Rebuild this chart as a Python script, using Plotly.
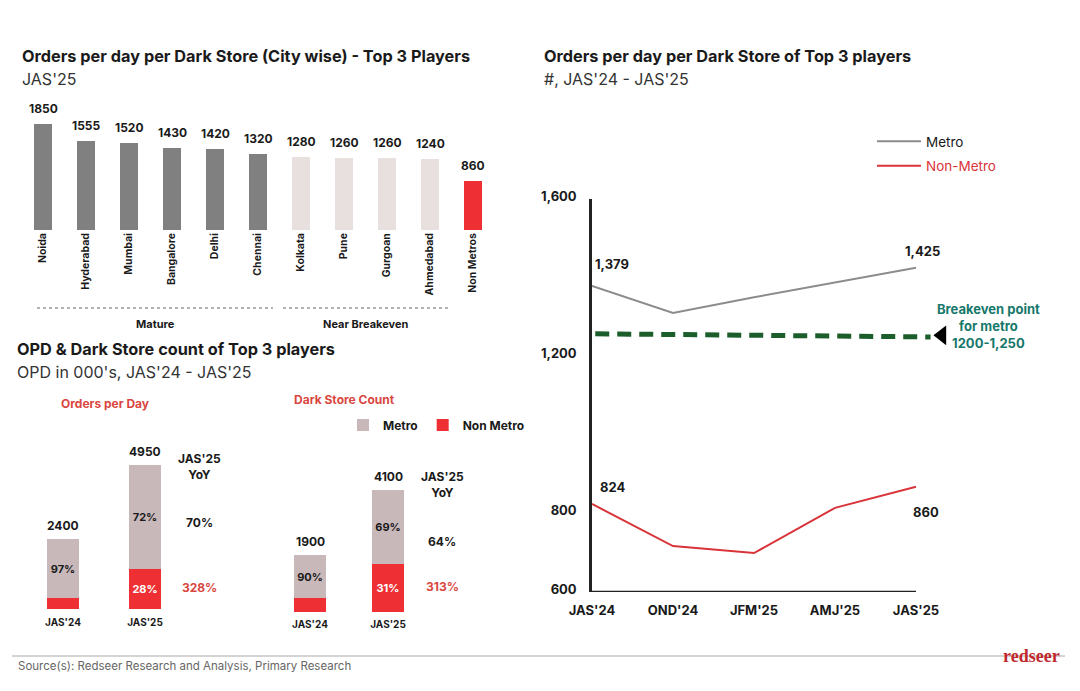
import plotly.graph_objects as go

W, H = 1080, 691
def X(px): return px / W
def Y(py): return 1 - py / H

FONT = "Inter"
DARK = "#1a1a1a"
RED = "#ee3035"
LRED = "#d9473f"
GRAY_BAR = "#808080"
LIGHT_BAR = "#e8dfdf"
METRO_BAR = "#c9b8ba"
TEAL = "#17786b"
GREEN = "#1b5e2b"

# ---- Chart 1: city wise OPD per dark store ----
cities = ["Noida", "Hyderabad", "Mumbai", "Bangalore", "Delhi", "Chennai",
          "Kolkata", "Pune", "Gurgoan", "Ahmedabad", "Non Metros"]
city_opd = [1850, 1555, 1520, 1430, 1420, 1320, 1280, 1260, 1260, 1240, 860]
city_group = ["Mature"] * 6 + ["Near Breakeven"] * 4 + ["Non Metro"]
group_colors = {"Mature": GRAY_BAR, "Near Breakeven": LIGHT_BAR, "Non Metro": RED}

# ---- Chart 2: OPD & dark store count ----
periods = ["JAS'24", "JAS'25"]
opd_total = [2400, 4950]
opd_nonmetro = [380, 1375]
opd_metro = [t - n for t, n in zip(opd_total, opd_nonmetro)]
opd_metro_pct = ["97%", "72%"]
opd_nonmetro_pct = ["", "28%"]
opd_yoy = ["70%", "328%"]

ds_total = [1900, 4100]
ds_nonmetro = [470, 1610]
ds_metro = [t - n for t, n in zip(ds_total, ds_nonmetro)]
ds_metro_pct = ["90%", "69%"]
ds_nonmetro_pct = ["", "31%"]
ds_yoy = ["64%", "313%"]

# ---- Chart 3: trend lines ----
quarters = ["JAS'24", "OND'24", "JFM'25", "AMJ'25", "JAS'25"]
metro_line = [1379, 1310, 1350, 1388, 1425]
nonmetro_line = [824, 717, 699, 814, 868]
metro_labels = ["1,379", "", "", "", "1,425"]
nonmetro_labels = ["824", "", "", "", "860"]
breakeven_x = [0.04, 4.18]
breakeven_y = [1257, 1249]
line_yticks = [600, 800, 1200, 1600]

fig = go.Figure()

# city bars
fig.add_trace(go.Bar(
    x=cities, y=city_opd, width=0.4,
    marker=dict(color=[group_colors[g] for g in city_group], line=dict(width=0)),
    showlegend=False, xaxis="x", yaxis="y", hoverinfo="x+y"))

# OPD stacked bars
fig.add_trace(go.Bar(
    x=periods, y=opd_nonmetro, width=0.4, name="Non Metro",
    marker=dict(color=RED, line=dict(width=0)),
    text=opd_nonmetro_pct, textposition="inside", insidetextanchor="middle",
    textfont=dict(color="white", size=11, family=FONT, weight="bold"),
    legend="legend2", legendrank=2, showlegend=True, xaxis="x2", yaxis="y2"))
fig.add_trace(go.Bar(
    x=periods, y=opd_metro, width=0.4, name="Metro",
    marker=dict(color=METRO_BAR, line=dict(width=0)),
    text=opd_metro_pct, textposition="inside", insidetextanchor="middle",
    textfont=dict(color=DARK, size=11, family=FONT, weight="bold"),
    legend="legend2", legendrank=1, showlegend=True, xaxis="x2", yaxis="y2"))

# Dark store stacked bars
fig.add_trace(go.Bar(
    x=periods, y=ds_nonmetro, width=0.42, name="Non Metro",
    marker=dict(color=RED, line=dict(width=0)),
    text=ds_nonmetro_pct, textposition="inside", insidetextanchor="middle",
    textfont=dict(color="white", size=11, family=FONT, weight="bold"),
    showlegend=False, xaxis="x3", yaxis="y3"))
fig.add_trace(go.Bar(
    x=periods, y=ds_metro, width=0.42, name="Metro",
    marker=dict(color=METRO_BAR, line=dict(width=0)),
    text=ds_metro_pct, textposition="inside", insidetextanchor="middle",
    textfont=dict(color=DARK, size=11, family=FONT, weight="bold"),
    showlegend=False, xaxis="x3", yaxis="y3"))

# line chart
qx = list(range(len(quarters)))
fig.add_trace(go.Scatter(
    x=breakeven_x, y=breakeven_y, mode="lines",
    line=dict(color=GREEN, width=5, dash="14px,8px"),
    showlegend=False, xaxis="x4", yaxis="y4", hoverinfo="skip"))
fig.add_trace(go.Scatter(
    x=[4.32], y=[breakeven_y[-1] + 4], mode="markers",
    marker=dict(symbol="triangle-left", size=17, color="black"),
    cliponaxis=False, showlegend=False, xaxis="x4", yaxis="y4", hoverinfo="skip"))
fig.add_trace(go.Scatter(
    x=qx, y=metro_line, mode="lines", name="Metro",
    line=dict(color="#8c8c8c", width=2), legendgroup="m", legendrank=1,
    legend="legend", xaxis="x4", yaxis="y4"))
fig.add_trace(go.Scatter(
    x=qx, y=nonmetro_line, mode="lines",
    name="<span style='color:#d9343a'>Non-Metro</span>",
    line=dict(color="#d9343a", width=2), legendgroup="n", legendrank=2,
    legend="legend", xaxis="x4", yaxis="y4"))

ann = []
def txt(x, y, s, size=12, color=DARK, bold=False, xanchor="center", yanchor="middle", align="center", **kw):
    d = dict(x=x, y=y, text=s, showarrow=False, xanchor=xanchor, yanchor=yanchor, align=align,
             font=dict(family=FONT, size=size, color=color, weight="bold" if bold else "normal"))
    d.update(kw)
    if "xref" not in kw:
        d["xref"] = "paper"
    if "yref" not in kw:
        d["yref"] = "paper"
    ann.append(d)

# titles
txt(X(20), Y(56), "Orders per day per Dark Store (City wise) - Top 3 Players", size=16.3, bold=True, xanchor="left")
txt(X(20), Y(79), "JAS'25", size=16, xanchor="left", color="#333")
txt(X(15), Y(349), "OPD & Dark Store count of Top 3 players", size=16.3, bold=True, xanchor="left")
txt(X(15), Y(372), "OPD in 000's, JAS'24 - JAS'25", size=16, xanchor="left", color="#333")
txt(X(542), Y(56), "Orders per day per Dark Store of Top 3 players", size=16.3, bold=True, xanchor="left")
txt(X(542), Y(79), "#, JAS'24 - JAS'25", size=16, xanchor="left", color="#333")

# city value labels
for c, v in zip(cities, city_opd):
    ann.append(dict(x=c, y=v, xref="x", yref="y", text=str(v), showarrow=False,
                    yanchor="bottom", yshift=6,
                    font=dict(family=FONT, size=12, color=DARK, weight="bold")))

# group labels
txt(X(155), Y(324), "Mature", size=11, bold=True)
txt(X(365), Y(324), "Near Breakeven", size=11, bold=True)

# section labels
txt(X(105), Y(403), "Orders per Day", size=12, bold=True, color=LRED)
txt(X(344), Y(399), "Dark Store Count", size=12, bold=True, color=LRED)

# totals
for p, t in zip(periods, opd_total):
    ann.append(dict(x=p, y=t, xref="x2", yref="y2", text=str(t), showarrow=False,
                    yanchor="bottom", yshift=4,
                    font=dict(family=FONT, size=12, color=DARK, weight="bold")))
for p, t in zip(periods, ds_total):
    ann.append(dict(x=p, y=t, xref="x3", yref="y3", text=str(t), showarrow=False,
                    yanchor="bottom", yshift=4,
                    font=dict(family=FONT, size=12, color=DARK, weight="bold")))

# YoY
txt(X(199), Y(466), "JAS'25<br>YoY", size=12, bold=True)
txt(X(199), Y(522), opd_yoy[0], size=12, bold=True)
txt(X(199), Y(587), opd_yoy[1], size=12, bold=True, color=LRED)
txt(X(442), Y(484), "JAS'25<br>YoY", size=12, bold=True)
txt(X(442), Y(541), ds_yoy[0], size=12, bold=True)
txt(X(442), Y(586), ds_yoy[1], size=12, bold=True, color=LRED)

# line labels
for i, (v, s) in enumerate(zip(metro_line, metro_labels)):
    if s:
        ann.append(dict(x=i, y=v, xref="x4", yref="y4", text=s, showarrow=False,
                        xshift=20 if i == 0 else 6, yshift=22 if i == 0 else 17,
                        font=dict(family=FONT, size=13, color=DARK, weight="bold")))
for i, (v, s) in enumerate(zip(nonmetro_line, nonmetro_labels)):
    if s:
        ann.append(dict(x=i, y=v, xref="x4", yref="y4", text=s, showarrow=False,
                        xshift=20 if i == 0 else 10, yshift=17 if i == 0 else -25,
                        font=dict(family=FONT, size=13, color=DARK, weight="bold")))

txt(X(988), Y(326), "Breakeven point<br>for metro<br>1200-1,250", size=13, bold=True, color=TEAL)

# footer
txt(X(16), Y(666), "Source(s): Redseer Research and Analysis, Primary Research", size=11.5,
    color="#666", xanchor="left")
ann.append(dict(x=X(1062), y=Y(668), xref="paper", yref="paper", text="<b>redseer</b>",
                showarrow=False, xanchor="right",
                font=dict(family="Liberation Serif", size=18, color="#c0282d")))

shapes = [
    dict(type="line", xref="paper", yref="paper", x0=X(37), x1=X(273), y0=Y(308), y1=Y(308),
         line=dict(color="#999", width=1.5, dash="dot")),
    dict(type="line", xref="paper", yref="paper", x0=X(283), x1=X(448), y0=Y(308), y1=Y(308),
         line=dict(color="#999", width=1.5, dash="dot")),
    dict(type="line", xref="x4", yref="y4", x0=0, x1=4, y0=600, y1=600,
         line=dict(color="#222", width=2.5)),
    dict(type="line", xref="paper", yref="paper", x0=X(12), x1=X(1065), y0=Y(656), y1=Y(656),
         line=dict(color="#aaa", width=1)),
]

noaxis = dict(showgrid=False, zeroline=False, showline=False, automargin=False)
fig.update_layout(
    template="none",
    width=W, height=H, margin=dict(l=0, r=0, t=0, b=0, autoexpand=False),
    paper_bgcolor="white", plot_bgcolor="white",
    font=dict(family=FONT, color=DARK),
    barmode="stack",
    xaxis=dict(domain=[X(21.5), X(494.5)], range=[-0.5, 10.5], type="category",
               tickangle=-90, ticks="", tickfont=dict(size=10.5, weight="bold", color=DARK),
               anchor="y", **noaxis),
    yaxis=dict(domain=[Y(230), Y(115.4)], range=[0, 2000], showticklabels=False,
               anchor="x", **noaxis),
    xaxis2=dict(domain=[X(22), X(186)], range=[-0.5, 1.5], type="category", ticks="",
                ticklabelstandoff=6,
                tickfont=dict(size=10, weight="bold", color=DARK), anchor="y2", **noaxis),
    yaxis2=dict(domain=[Y(609), Y(434.4)], range=[0, 6000], showticklabels=False,
                anchor="x2", **noaxis),
    xaxis3=dict(domain=[X(271), X(427)], range=[-0.5, 1.5], type="category", ticks="",
                ticklabelstandoff=5,
                tickfont=dict(size=10, weight="bold", color=DARK), anchor="y3", **noaxis),
    yaxis3=dict(domain=[Y(612), Y(463)], range=[0, 5000], showticklabels=False,
                anchor="x3", **noaxis),
    xaxis4=dict(domain=[X(592), X(592 + 81 * 4.5)], range=[0, 4.5], tickvals=qx,
                ticktext=quarters, ticks="", ticklabelstandoff=9,
                tickfont=dict(size=13, weight="bold", color=DARK), anchor="y4",
                **noaxis),
    yaxis4=dict(domain=[Y(592), Y(199)], range=[600, 1600], tickvals=line_yticks,
                ticktext=[f"{v:,}" for v in line_yticks], ticks="", ticklabelstandoff=10,
                ticklabelshift=-3,
                tickfont=dict(size=13, weight="bold", color=DARK),
                showline=True, linecolor="#222", linewidth=2.5, showgrid=False,
                zeroline=False, automargin=False, anchor="x4"),
    legend=dict(x=X(872), y=Y(126), xanchor="left", yanchor="top",
                font=dict(size=13.5, family=FONT, color=DARK), bgcolor="rgba(0,0,0,0)",
                traceorder="grouped", tracegroupgap=4, itemwidth=44),
    legend2=dict(orientation="h", x=X(343), y=Y(425), xanchor="left", yanchor="middle",
                 font=dict(size=12, family=FONT, color=DARK, weight="bold"),
                 traceorder="normal", bgcolor="rgba(0,0,0,0)"),
    annotations=ann, shapes=shapes,
)

fig.write_html("out.html")
